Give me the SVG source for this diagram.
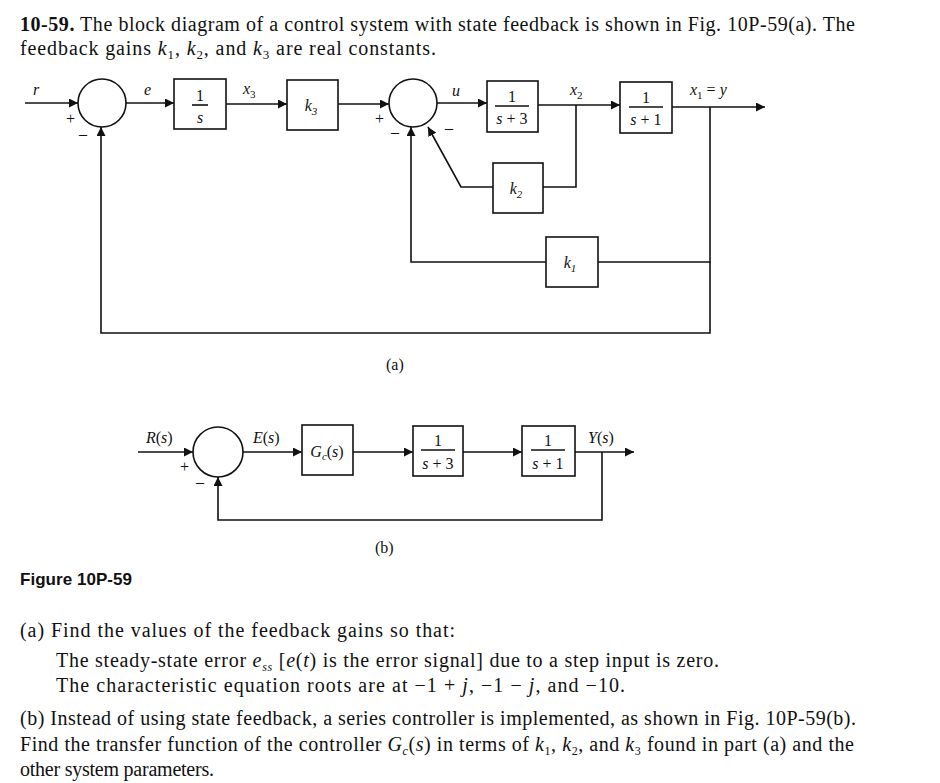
<svg xmlns="http://www.w3.org/2000/svg" width="940" height="783" viewBox="0 0 940 783">
<style>
.t{font-family:"Liberation Serif",serif;font-size:20px;fill:#111}
.l{font-family:"Liberation Serif",serif;font-size:16px;fill:#111}
.i{font-style:italic}
.w{fill:none;stroke:#111;stroke-width:1.6}
.b{fill:#fff;stroke:#111;stroke-width:1.6}
</style>
<defs><marker id="a" viewBox="0 0 10 10" refX="10" refY="5" markerWidth="9" markerHeight="9" markerUnits="userSpaceOnUse" orient="auto"><path d="M0,0L10,5L0,10z" fill="#111"/></marker></defs>
<rect width="940" height="783" fill="#fff"/>
<text class="t" x="20" y="31" textLength="835"><tspan font-weight="bold">10-59.</tspan>  The block diagram of a control system with state feedback is shown in Fig. 10P-59(a). The</text>
<text class="t" x="20" y="55" textLength="416">feedback gains <tspan class="i">k</tspan><tspan font-size="13" dy="4">1</tspan><tspan dy="-4">, </tspan><tspan class="i">k</tspan><tspan font-size="13" dy="4">2</tspan><tspan dy="-4">, and </tspan><tspan class="i">k</tspan><tspan font-size="13" dy="4">3</tspan><tspan dy="-4"> are real constants.</tspan></text>
<g id="connectors" class="w">
<path d="M25,103H78" marker-end="url(#a)"/>
<path d="M126,103H174" marker-end="url(#a)"/>
<path d="M226,104H287" marker-end="url(#a)"/>
<path d="M338,104H389" marker-end="url(#a)"/>
<path d="M437,103H487" marker-end="url(#a)"/>
<path d="M538,105H620" marker-end="url(#a)"/>
<path d="M672,107H765" marker-end="url(#a)"/>
<path d="M576,105V187H543"/>
<path d="M493,187H461L428,127" marker-end="url(#a)"/>
<path d="M710,107V262H598"/>
<path d="M546,262H411V127" marker-end="url(#a)"/>
<path d="M710,262V333H101V127" marker-end="url(#a)"/>
<path d="M138,452H193" marker-end="url(#a)"/>
<path d="M243,452H302" marker-end="url(#a)"/>
<path d="M353,452H413" marker-end="url(#a)"/>
<path d="M463,452H522" marker-end="url(#a)"/>
<path d="M575,452H634" marker-end="url(#a)"/>
<path d="M602,452V520H218V477" marker-end="url(#a)"/>
</g>
<g id="sum1"><circle class="b" cx="102" cy="103" r="24"/><text class="l" x="66" y="124">+</text><text class="l" x="79" y="139">–</text></g>
<g id="int"><rect class="b" x="174" y="79" width="52" height="50"/><text class="l" x="200" y="101" text-anchor="middle">1</text><path d="M192,105H208" class="w" stroke-width="1"/><text class="l i" x="200" y="123" text-anchor="middle">s</text></g>
<g id="k3"><rect class="b" x="287" y="80" width="51" height="50"/><text class="l i" x="311" y="111" text-anchor="middle">k<tspan font-size="11" dy="4">3</tspan></text></g>
<g id="sum2"><circle class="b" cx="413" cy="103" r="24"/><text class="l" x="375" y="124">+</text><text class="l" x="391" y="137">–</text><text class="l" x="445" y="133">–</text></g>
<g id="g3"><rect class="b" x="487" y="81" width="51" height="51"/><text class="l" x="512" y="102" text-anchor="middle">1</text><path d="M495,106H529" class="w" stroke-width="1"/><text class="l" x="512" y="124" text-anchor="middle"><tspan class="i">s</tspan> + 3</text></g>
<g id="g1"><rect class="b" x="620" y="82" width="52" height="51"/><text class="l" x="646" y="103" text-anchor="middle">1</text><path d="M629,107H663" class="w" stroke-width="1"/><text class="l" x="646" y="125" text-anchor="middle"><tspan class="i">s</tspan> + 1</text></g>
<g id="k2"><rect class="b" x="493" y="163" width="50" height="50"/><text class="l i" x="516" y="194" text-anchor="middle">k<tspan font-size="11" dy="4">2</tspan></text></g>
<g id="k1"><rect class="b" x="546" y="237" width="52" height="50"/><text class="l i" x="570" y="268" text-anchor="middle">k<tspan font-size="11" dy="4">1</tspan></text></g>
<g id="labelsA" class="l i">
<text x="33" y="95">r</text><text x="144" y="95">e</text><text x="243" y="94">x<tspan font-size="11" dy="4" font-style="normal">3</tspan></text><text x="452" y="96">u</text><text x="570" y="95">x<tspan font-size="11" dy="4" font-style="normal">2</tspan></text><text x="690" y="95">x<tspan font-size="11" dy="4" font-style="normal">1</tspan><tspan dy="-4" font-style="normal"> = </tspan>y</text>
</g>
<text class="l" x="386" y="370">(a)</text>
<g id="sumB"><circle class="b" cx="218" cy="452" r="25"/><text class="l" x="180" y="472">+</text><text class="l" x="196" y="487">–</text></g>
<g id="gc"><rect class="b" x="302" y="425" width="51" height="50"/><text class="l i" x="327" y="457" text-anchor="middle">G<tspan font-size="11" dy="3">c</tspan><tspan dy="-3" font-style="normal">(</tspan>s<tspan font-style="normal">)</tspan></text></g>
<g id="gb3"><rect class="b" x="413" y="426" width="50" height="50"/><text class="l" x="438" y="446" text-anchor="middle">1</text><path d="M421,450H455" class="w" stroke-width="1"/><text class="l" x="438" y="469" text-anchor="middle"><tspan class="i">s</tspan> + 3</text></g>
<g id="gb1"><rect class="b" x="522" y="426" width="53" height="50"/><text class="l" x="548" y="446" text-anchor="middle">1</text><path d="M531,450H565" class="w" stroke-width="1"/><text class="l" x="548" y="469" text-anchor="middle"><tspan class="i">s</tspan> + 1</text></g>
<g class="l i"><text x="146" y="443">R<tspan font-style="normal">(</tspan>s<tspan font-style="normal">)</tspan></text><text x="253" y="443">E<tspan font-style="normal">(</tspan>s<tspan font-style="normal">)</tspan></text><text x="588" y="443">Y<tspan font-style="normal">(</tspan>s<tspan font-style="normal">)</tspan></text></g>
<text class="l" x="375" y="553">(b)</text>
<text x="20" y="585" font-family="'Liberation Sans Narrow','Liberation Sans',sans-serif" font-size="17" font-weight="bold" fill="#111" textLength="112">Figure 10P-59</text>
<text class="t" x="20" y="637" textLength="435">(a) Find the values of the feedback gains so that:</text>
<text class="t" x="56" y="667" textLength="663">The steady-state error <tspan class="i">e</tspan><tspan class="i" font-size="12" dy="4">ss</tspan><tspan dy="-4"> [</tspan><tspan class="i">e</tspan>(<tspan class="i">t</tspan>) is the error signal] due to a step input is zero.</text>
<text class="t" x="56" y="692" textLength="569">The characteristic equation roots are at −1 + <tspan class="i">j</tspan>, −1 − <tspan class="i">j</tspan>, and −10.</text>
<text class="t" x="20" y="725" textLength="836">(b) Instead of using state feedback, a series controller is implemented, as shown in Fig. 10P-59(b).</text>
<text class="t" x="20" y="751" textLength="834">Find the transfer function of the controller <tspan class="i">G</tspan><tspan class="i" font-size="12" dy="4">c</tspan><tspan dy="-4">(</tspan><tspan class="i">s</tspan>) in terms of <tspan class="i">k</tspan><tspan font-size="12" dy="4">1</tspan><tspan dy="-4">, </tspan><tspan class="i">k</tspan><tspan font-size="12" dy="4">2</tspan><tspan dy="-4">, and </tspan><tspan class="i">k</tspan><tspan font-size="12" dy="4">3</tspan><tspan dy="-4"> found in part (a) and the</tspan></text>
<text class="t" x="20" y="776" textLength="194">other system parameters.</text>
</svg>
